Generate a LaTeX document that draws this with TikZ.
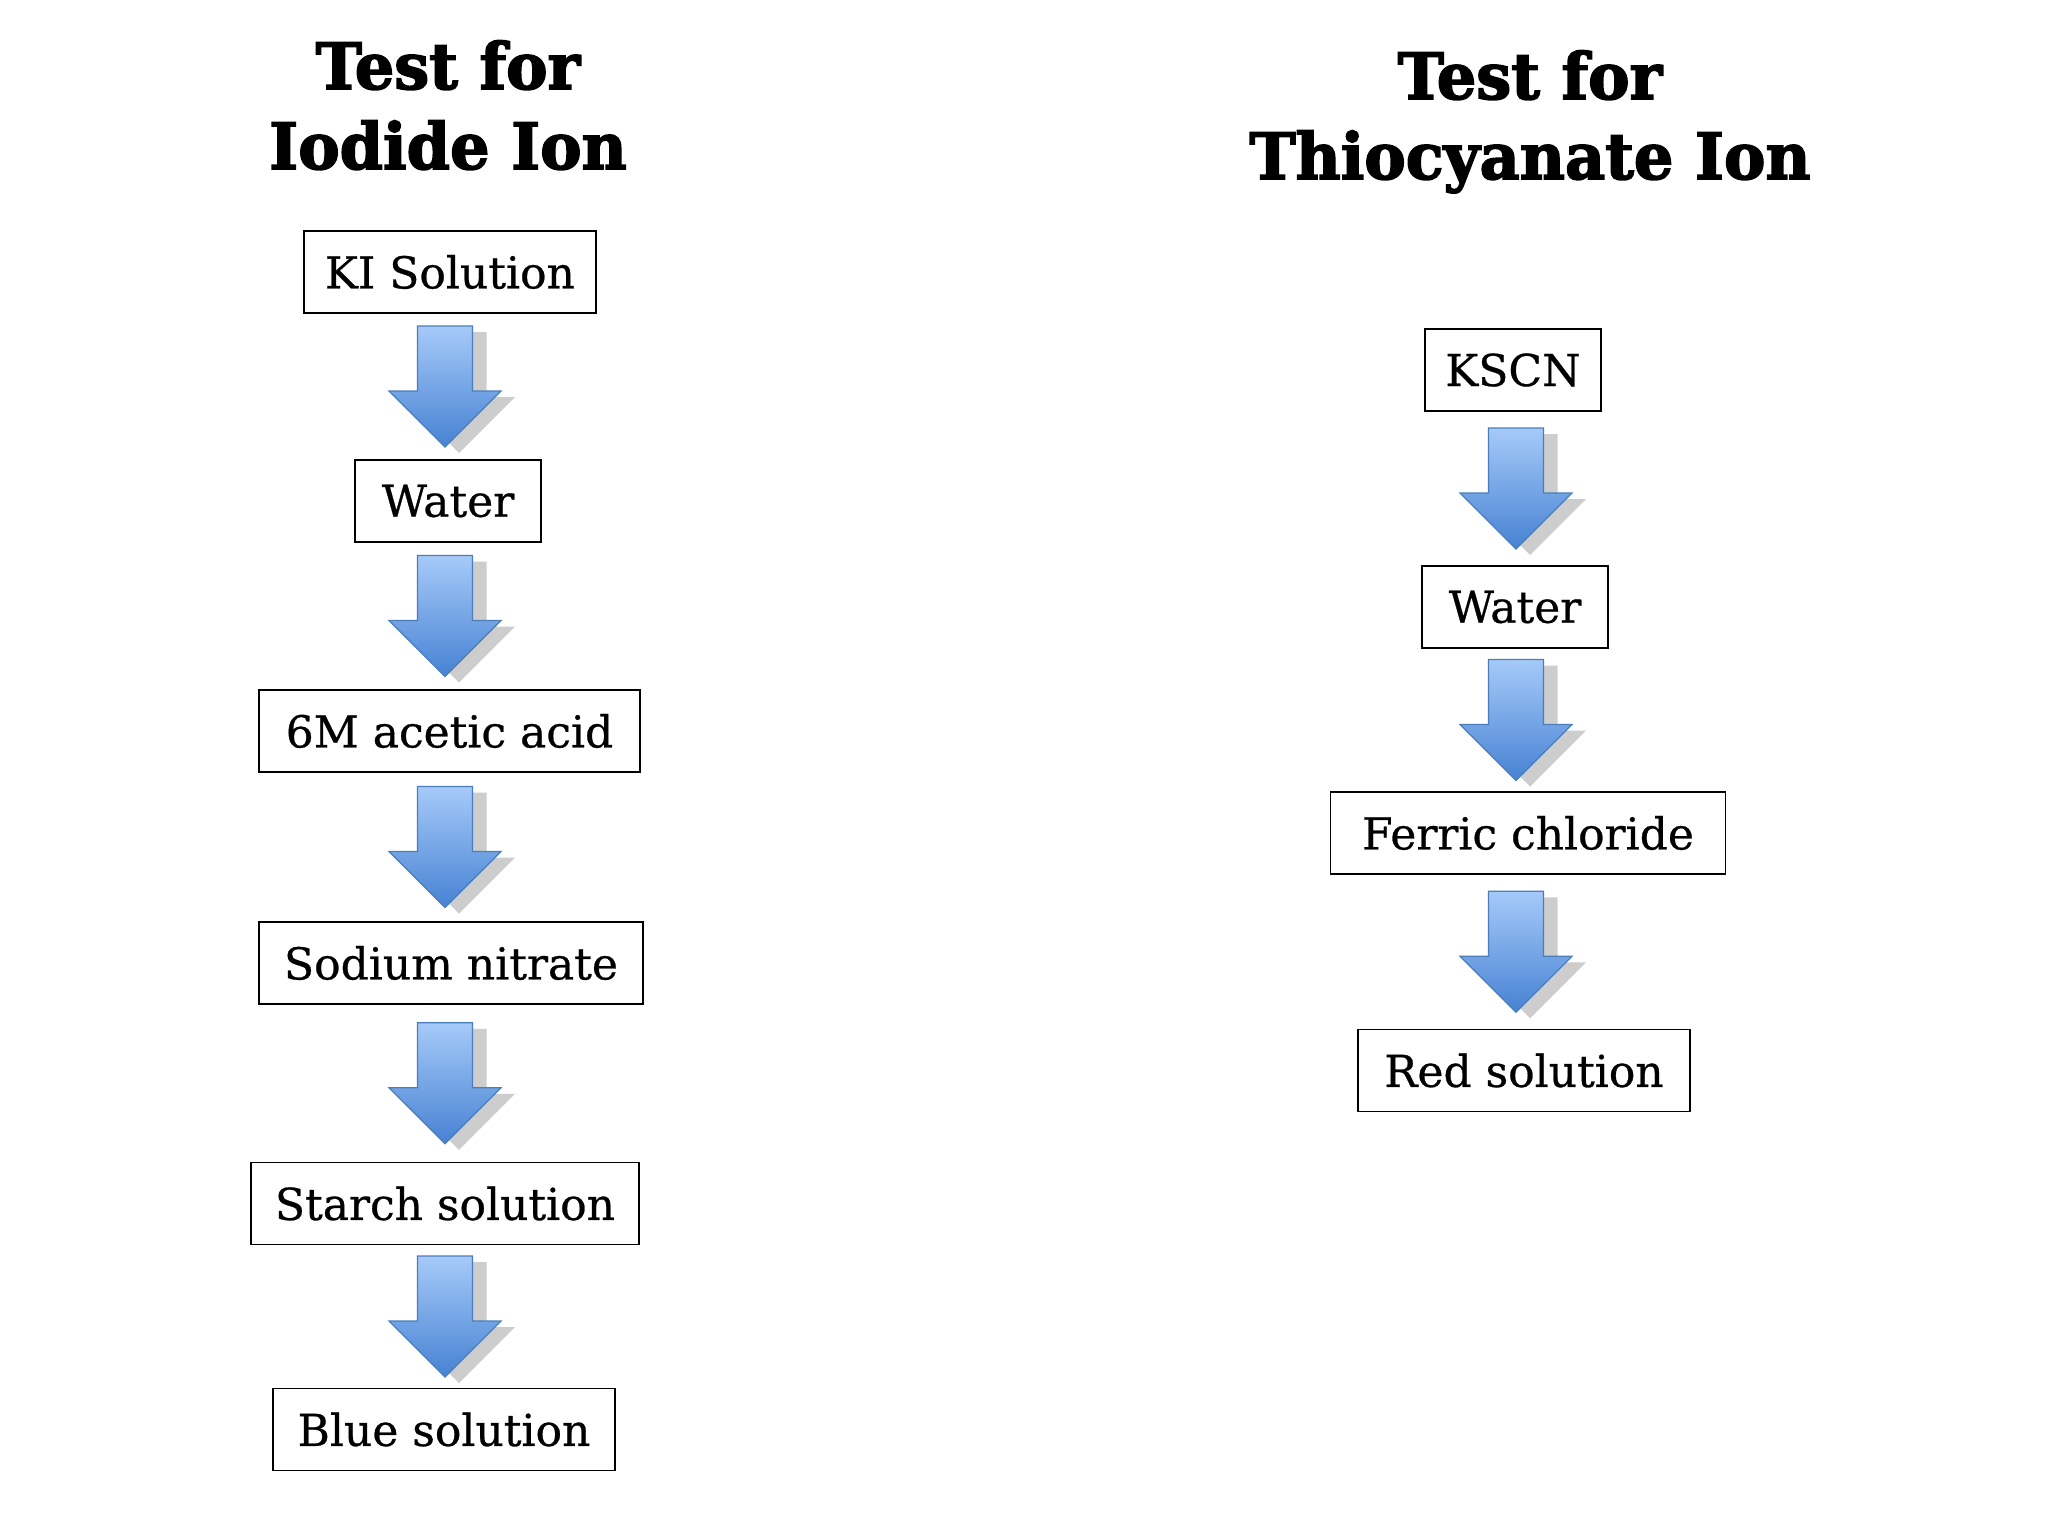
\documentclass[tikz,border=0pt]{standalone}
\usepackage{fontspec}
\setmainfont{DejaVu Serif}
\newfontfamily\titlefont[FakeStretch=0.97,FakeBold=2.5]{DejaVu Serif}
\newfontfamily\boxfont[FakeBold=0.6]{DejaVu Serif}
\usetikzlibrary{calc}
\definecolor{arrowtop}{HTML}{A6CAF9}
\definecolor{arrowbot}{HTML}{4782D3}
\definecolor{arrowedge}{HTML}{4A7EBB}
\definecolor{arrowshadow}{HTML}{CDCDCD}
\tikzset{
  stepbox/.style={draw=black, line width=0.8pt, minimum height=41pt, inner sep=0pt,
    font=\boxfont\fontsize{22}{26}\selectfont},
  ttl/.style={font=\titlefont\bfseries\fontsize{32}{40}\selectfont, align=center,
    anchor=north, inner sep=0pt},
  pics/flowarrow/.style={code={
    \fill[arrowshadow] (-13.5,-54.5) -- (41.5,-54.5) -- (41.5,10.5) -- (70,10.5)
      -- (14,66.5) -- (-42,10.5) -- (-13.5,10.5) -- cycle;
    \shade[top color=arrowtop, bottom color=arrowbot, draw=arrowedge, line width=0.6pt]
      (-27.5,-60.5) -- (27.5,-60.5) -- (27.5,4.5) -- (56,4.5) -- (0,60.5)
      -- (-56,4.5) -- (-27.5,4.5) -- cycle;
  }}
}
\begin{document}
\begin{tikzpicture}[x=0.5pt,y=-0.5pt]
\useasboundingbox[fill=white] (0,0) rectangle (2048,1536);
% titles
\node[ttl] (t1) at (448,40) {Test for\\Iodide Ion};
\node[ttl] (t2) at (1530,50) {Test for\\Thiocyanate Ion};
% columns
\coordinate (lcol) at (445,0);
\coordinate (rcol) at (1516,0);
% left column
\node[stepbox, minimum width=146pt] (ki) at (450,272) {KI Solution};
\node[stepbox, minimum width=93pt] (w1) at (448,501) {Water};
\node[stepbox, minimum width=190.5pt] (aa) at (449.5,731) {6M acetic acid};
\node[stepbox, minimum width=192pt] (sn) at (451,963) {Sodium nitrate};
\node[stepbox, minimum width=194pt] (ss) at (445,1203.5) {Starch solution};
\node[stepbox, minimum width=171pt] (bs) at (444,1429.5) {Blue solution};
% right column
\node[stepbox, minimum width=88pt] (ks) at (1513,370) {KSCN};
\node[stepbox, minimum width=93pt] (w2) at (1515,607) {Water};
\node[stepbox, minimum width=197.5pt] (fc) at (1528,833) {Ferric chloride};
\node[stepbox, minimum width=166pt] (rs) at (1524,1070.5) {Red solution};
% block arrows between steps
\foreach \a/\b/\c in {ki/w1/lcol, w1/aa/lcol, aa/sn/lcol, sn/ss/lcol, ss/bs/lcol,
                      ks/w2/rcol, w2/fc/rcol, fc/rs/rcol}{
  \coordinate (m-\a) at ($(\a.south)!0.5!(\b.north)$);
  \pic at (m-\a -| \c) {flowarrow};
}
\end{tikzpicture}
\end{document}
